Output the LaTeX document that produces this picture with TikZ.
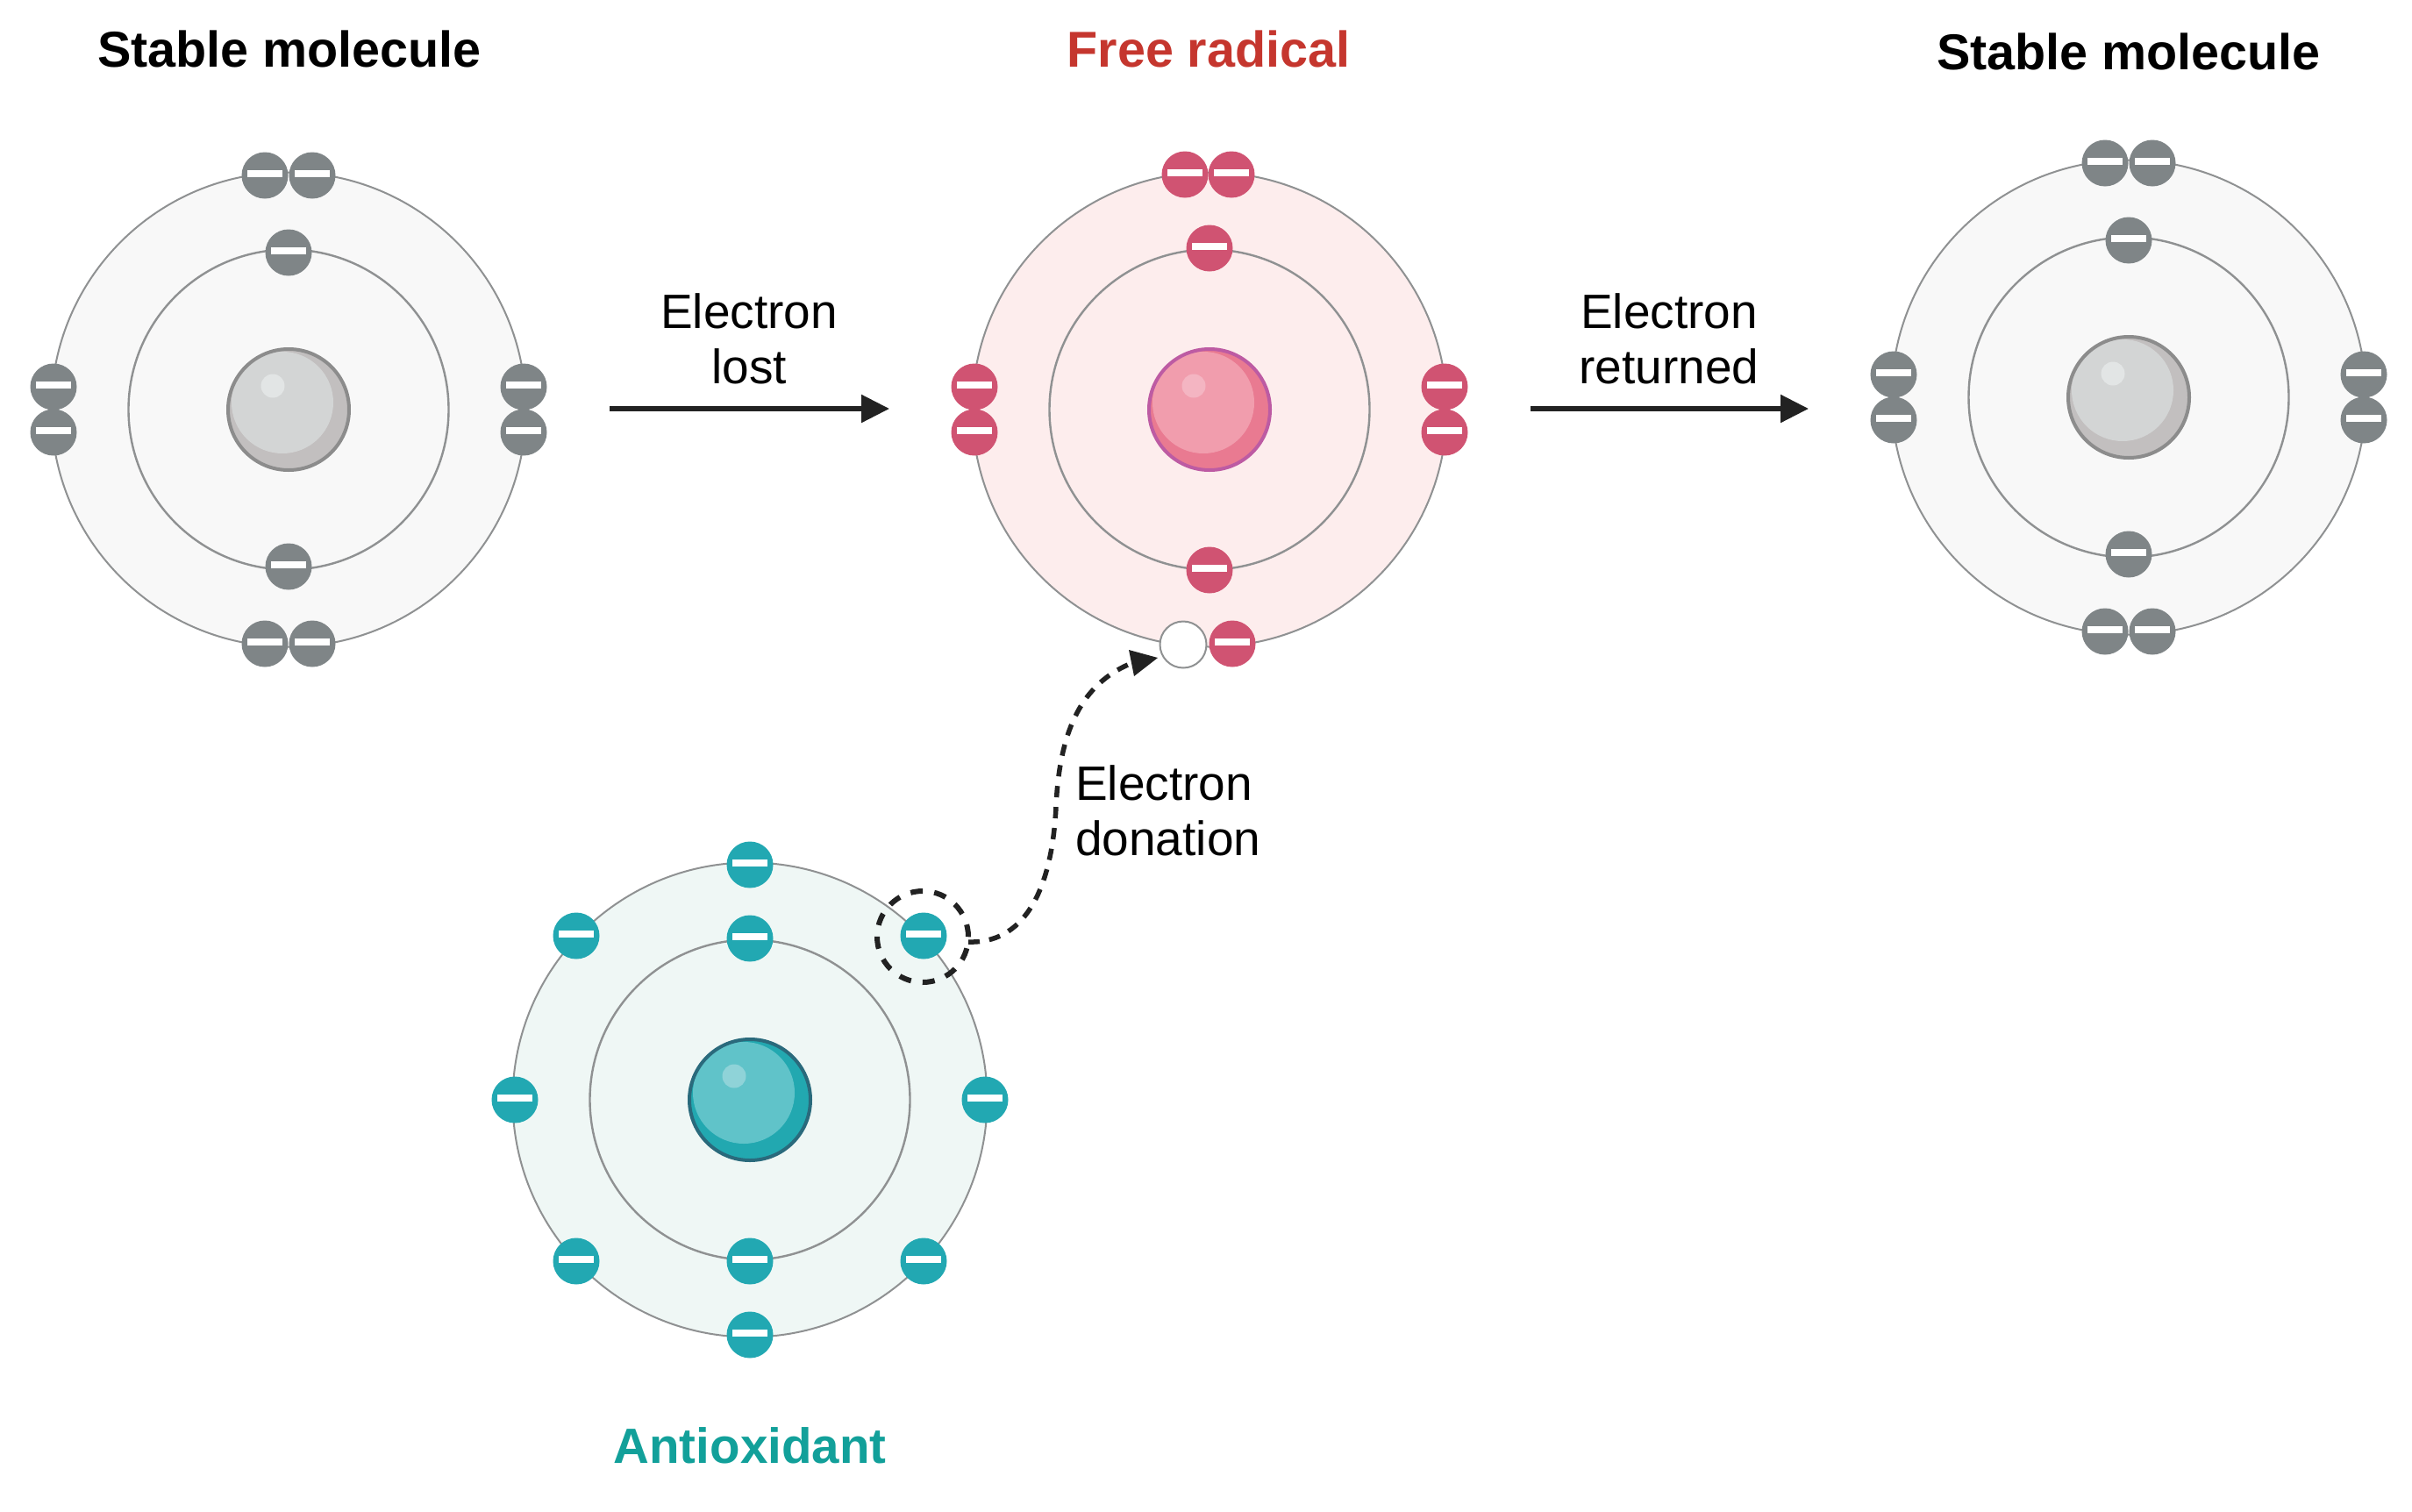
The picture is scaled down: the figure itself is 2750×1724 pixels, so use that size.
\documentclass[tikz,border=0pt]{standalone}
\usepackage{fontspec}
\setmainfont{Liberation Sans}
\usetikzlibrary{arrows.meta}
\definecolor{ringc}{HTML}{8F9192}
\definecolor{ink}{HTML}{222222}
\definecolor{gEl}{HTML}{7F8587}
\definecolor{pEl}{HTML}{D05372}
\definecolor{tEl}{HTML}{22A8B2}
\definecolor{gBg}{HTML}{F8F8F8}
\definecolor{pBg}{HTML}{FDEDED}
\definecolor{tBg}{HTML}{EFF7F5}
\definecolor{titleRed}{HTML}{C5362E}
\definecolor{titleTeal}{HTML}{12A09A}
\definecolor{gS}{HTML}{8C8C8C}\definecolor{gB}{HTML}{C2BFBF}\definecolor{gL}{HTML}{D3D5D5}\definecolor{gH}{HTML}{E2E5E5}
\definecolor{pS}{HTML}{BD5BA3}\definecolor{pB}{HTML}{E97A91}\definecolor{pL}{HTML}{F19DAD}\definecolor{pH}{HTML}{F4B5C2}
\definecolor{tS}{HTML}{2A6A7C}\definecolor{tB}{HTML}{22A8B0}\definecolor{tL}{HTML}{60C3C9}\definecolor{tH}{HTML}{8FD3D8}
\tikzset{
  x=1pt,y=-1pt,
  electron/.style={circle,fill=#1,draw=none,minimum size=53pt,inner sep=0pt,outer sep=0pt,
    path picture={\fill[white] ([xshift=-20pt,yshift=-2pt]path picture bounding box.center) rectangle ([xshift=20pt,yshift=6pt]path picture bounding box.center);}},
  hole/.style={circle,fill=white,draw=ringc,line width=2pt,minimum size=53pt,inner sep=0pt,outer sep=0pt},
  orbitO/.style={circle,draw=ringc,line width=2pt,fill=#1,minimum size=541pt,inner sep=0pt,outer sep=0pt},
  orbitI/.style={circle,draw=ringc,line width=2.4pt,minimum size=365pt,inner sep=0pt,outer sep=0pt},
  nucleus/.style n args={4}{circle,minimum size=138pt,inner sep=0pt,outer sep=0pt,draw=#1,line width=4pt,fill=#2,
    path picture={
      \fill[#3] ([xshift=-7pt,yshift=8pt]path picture bounding box.center) circle[radius=58pt];
      \fill[#4] ([xshift=-18pt,yshift=27pt]path picture bounding box.center) circle[radius=13.5pt];}},
  lbl/.style={font=\fontsize{55}{63}\selectfont,text=black,align=center,inner sep=0pt},
  ttl/.style={font=\fontsize{57.5}{66}\selectfont\bfseries,inner sep=0pt,anchor=base},
  arr/.style={line width=5.5pt,draw=ink,-{Triangle[length=32pt,width=31pt,fill=ink]}},
  dashy/.style={line width=5.5pt,draw=ink,dash pattern=on 13pt off 11pt},
  ringd/.style={circle,draw=ink,line width=6pt,dash pattern=on 14pt off 13.2pt,minimum size=104pt,inner sep=0pt,outer sep=0pt},
}
\begin{document}
\begin{tikzpicture}
\useasboundingbox (0,0) rectangle (2750,1724);
\fill[white] (0,0) rectangle (2750,1724);

% left atom
\node[orbitO=gBg] (Lo) at (329,467) {};
\node[orbitI] (Li) at (329,467) {};
\node[nucleus={gS}{gB}{gL}{gH}] (Ln) at (329,467) {};
\foreach \n/\px/\py in {a/-27/-267,b/27/-267,c/27/267,d/-27/267,e/-268/-26,f/-268/26,g/268/-26,h/268/26,i/0/-179,j/0/179}
  \node[electron=gEl] (L\n) at (329+\px,467+\py) {};

% middle atom
\node[orbitO=pBg] (Mo) at (1379,467) {};
\node[orbitI] (Mi) at (1379,467) {};
\node[nucleus={pS}{pB}{pL}{pH}] (Mn) at (1379,467) {};
\foreach \n/\px/\py in {a/-28/-268,b/25/-268,e/-268/-26,f/-268/26,g/268/-26,h/268/26,i/0/-184,j/0/183,c/26/267}
  \node[electron=pEl] (M\n) at (1379+\px,467+\py) {};
\node[hole] (Mhole) at (1349,735) {};

% right atom
\node[orbitO=gBg] (Ro) at (2427,453) {};
\node[orbitI] (Ri) at (2427,453) {};
\node[nucleus={gS}{gB}{gL}{gH}] (Rn) at (2427,453) {};
\foreach \n/\px/\py in {a/-27/-267,b/27/-267,c/27/267,d/-27/267,e/-268/-26,f/-268/26,g/268/-26,h/268/26,i/0/-179,j/0/179}
  \node[electron=gEl] (R\n) at (2427+\px,453+\py) {};

% antioxidant atom
\node[orbitO=tBg] (Ao) at (855,1254) {};
\node[orbitI] (Ai) at (855,1254) {};
\node[nucleus={tS}{tB}{tL}{tH}] (An) at (855,1254) {};
\foreach \n/\px/\py in {a/0/-268,b/-198/-187,c/198/-187,d/-268/0,e/268/0,f/-198/184,g/198/184,h/0/268,i/0/-184,j/0/184}
  \node[electron=tEl] (A\n) at (855+\px,1254+\py) {};
\node[ringd] (Aring) at (1052,1068) {};

% titles
\node[ttl,text=black] (T1) at (330,76) {Stable molecule};
\node[ttl,text=titleRed] (T2) at (1378,76) {Free radical};
\node[ttl,text=black] (T3) at (2427,79) {Stable molecule};
\node[ttl,text=titleTeal,font=\fontsize{56.5}{66}\selectfont\bfseries] (T4) at (855,1668) {Antioxidant};

% labels
\node[lbl] (L1) at (854,386) {Electron\\lost};
\node[lbl] (L2) at (1903,386) {Electron\\returned};
\node[lbl,align=left,anchor=west] (L3) at (1226,924) {Electron\\donation};

% connectors
\coordinate (s1) at (695,466);
\coordinate (e1) at (1014,466);
\coordinate (s2) at (1745,466);
\coordinate (e2) at (2062,466);
\draw[arr] (s1) -- (e1);
\draw[arr] (s2) -- (e2);
\coordinate (d0) at (Aring.east);
\coordinate (d1) at (1204,920);
\coordinate (d2) at (Mhole.west);
\draw[dashy] ([yshift=-6pt]d0) .. controls (1165,1076) and (1199,1020) .. (d1)
   .. controls (1208,830) and (1235,780) .. (1288,757);
\fill[ink] (1320,750) -- (1287,741) -- (1293,771) -- cycle;
\end{tikzpicture}
\end{document}
